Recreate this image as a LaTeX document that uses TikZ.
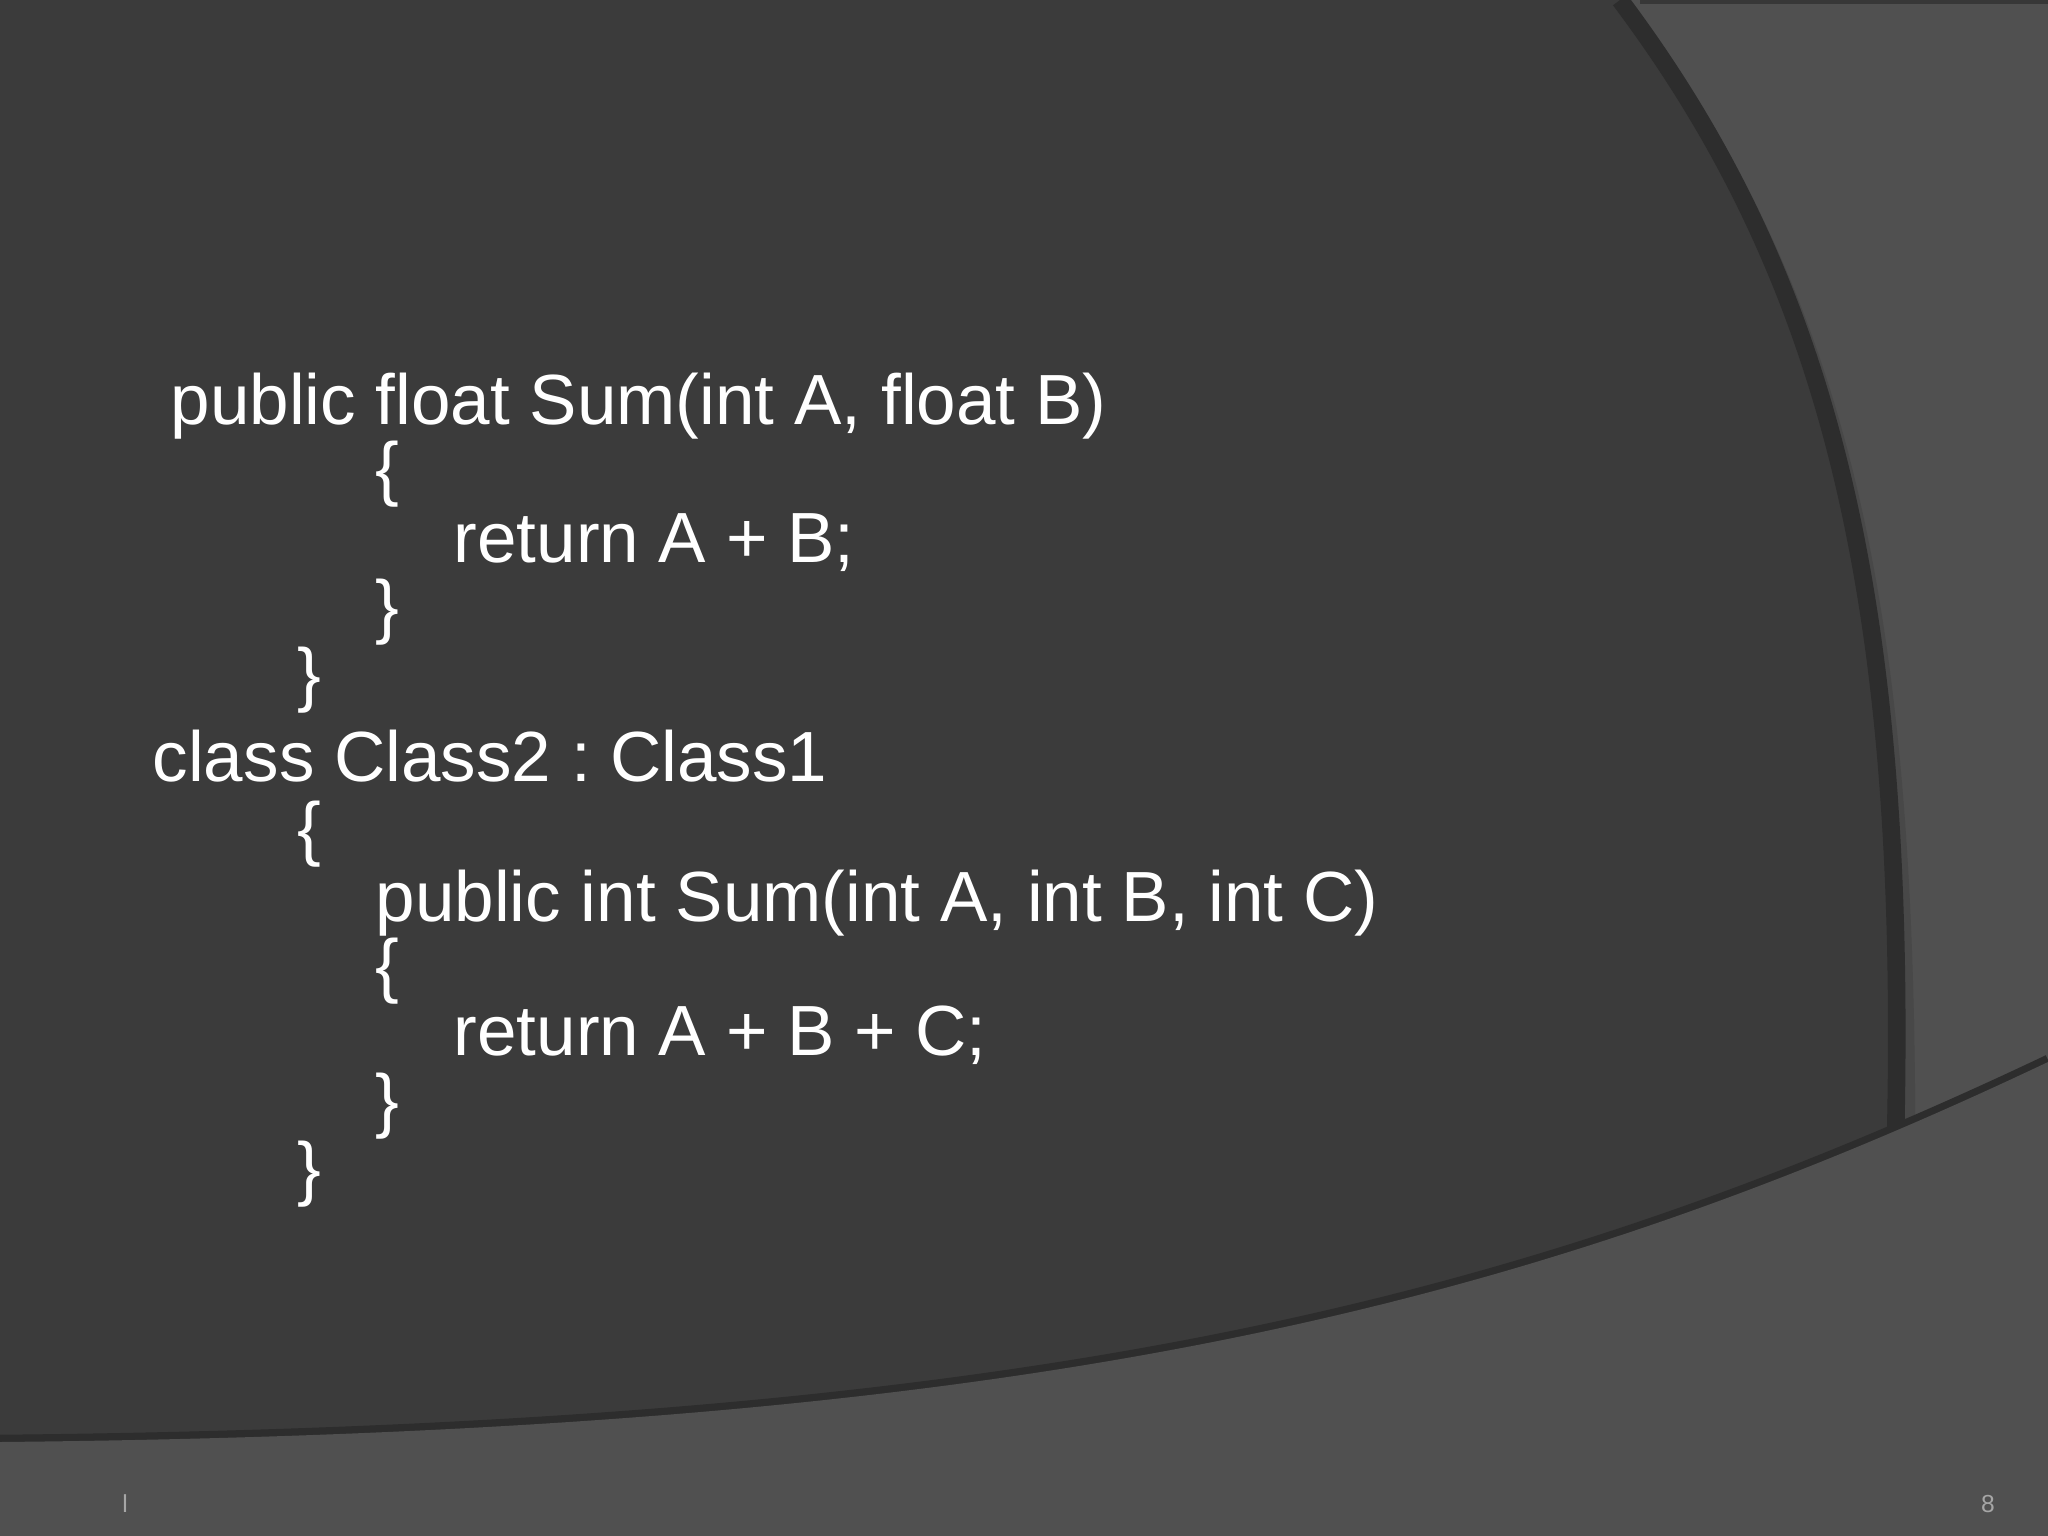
\documentclass[tikz,border=0pt]{standalone}
\usepackage{fontspec}
\setmainfont{Liberation Sans}
\begin{document}
\begin{tikzpicture}[x=0.01cm,y=-0.01cm,
  code/.style={anchor=base west,inner sep=0pt,text=white,font=\fontsize{20.2}{20}\selectfont},
  foot/.style={anchor=base,inner sep=0pt,text=gray!70,font=\fontsize{7}{7}\selectfont}]
\useasboundingbox (0,0) rectangle (2048,1536);
\fill[fill={rgb,255:red,80;green,80;blue,80}] (0,0) rectangle (2048,1536);
% right lighter band
\fill[fill={rgb,255:red,72;green,72;blue,72}] (1630,0) .. controls (1850,300) and (1920,600) .. (1915,1200) -- (1880,1300) -- (0,1300) -- (0,0) -- cycle;
% main dark area
\fill[fill={rgb,255:red,59;green,59;blue,59}] (0,0) -- (1620,0) .. controls (1830,280) and (1910,600) .. (1895,1160) .. controls (1500,1320) and (1000,1430) .. (0,1440) -- cycle;
% dark contour lines
\draw[line width=5pt,draw={rgb,255:red,45;green,45;blue,45}] (1620,0) .. controls (1830,280) and (1910,600) .. (1895,1160);
\draw[line width=3pt,draw={rgb,255:red,45;green,45;blue,45}] (2048,1060) .. controls (1500,1320) and (1000,1430) .. (0,1440);
\draw[line width=2pt,draw={rgb,255:red,55;green,55;blue,55}] (1640,0) -- (2048,0);
% lower band
\fill[fill={rgb,255:red,80;green,80;blue,80}] (2048,1062) .. controls (1500,1322) and (1000,1432) .. (0,1442) -- (0,1536) -- (2048,1536) -- cycle;
\node[code] (l1) at (170,424) {public float Sum(int A, float B)};
\node[code] (l2) at (375,492) {\{};
\node[code] (l3) at (453,562) {return A + B;};
\node[code] (l4) at (375,630) {\}};
\node[code] (l5) at (297,698) {\}};
\node[code] (l6) at (152,781) {class Class2 :\kern-0.1em{} Class1};
\node[code] (l7) at (297,852) {\{};
\node[code] (l8) at (375,921) {public int Sum(int A, int B, int C)};
\node[code] (l9) at (375,989) {\{};
\node[code] (l10) at (453,1055) {return A + B + C;};
\node[code] (l11) at (375,1124) {\}};
\node[code] (l12) at (297,1192) {\}};
\node[foot] (f1) at (125,1512) {l};
\node[foot] (f2) at (1988,1512) {8};
\end{tikzpicture}
\end{document}
